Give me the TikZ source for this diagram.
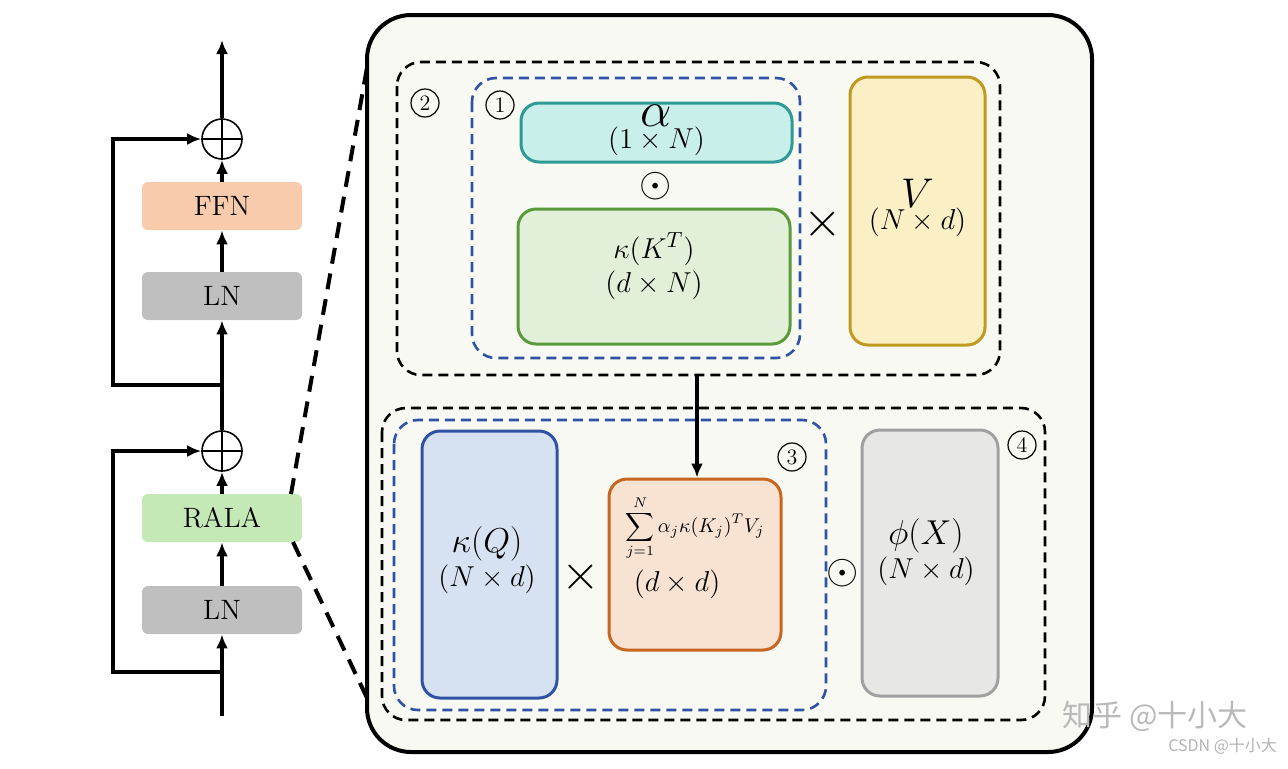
\documentclass[tikz,border=0pt]{standalone}
\usepackage{fontspec}
\usepackage{amsmath,amssymb}
\usetikzlibrary{arrows.meta}
\newfontfamily\cjk{Noto Sans CJK SC}
\definecolor{ffn}{HTML}{F8CBAD}\definecolor{lng}{HTML}{BFBFBF}\definecolor{rala}{HTML}{C5E8B7}
\definecolor{bg}{HTML}{F7F9F2}
\definecolor{af}{HTML}{C9EFEA}\definecolor{ab}{HTML}{2E9A94}
\definecolor{kf}{HTML}{E2F0D9}\definecolor{kb}{HTML}{5A9A3A}
\definecolor{vf}{HTML}{FBEFC5}\definecolor{vb}{HTML}{C09A20}
\definecolor{qf}{HTML}{D6E2F1}\definecolor{qb}{HTML}{2F52A4}
\definecolor{of}{HTML}{F8E3D3}\definecolor{ob}{HTML}{C8651E}
\definecolor{pf}{HTML}{E7E8E6}\definecolor{pb}{HTML}{A0A0A0}
\definecolor{bd}{HTML}{2F52A4}
\begin{document}
\begin{tikzpicture}[x=0.5pt,y=-0.5pt,
 blk/.style={rounded corners=3pt,minimum width=80pt,minimum height=24pt,inner sep=0pt,font=\fontsize{14}{16}\selectfont},
 box/.style={rounded corners=9pt,line width=1.5pt,inner sep=0pt},
 arr/.style={line width=1.6pt,-{Latex[length=7pt,width=6pt]}},
 dsh/.style={dashed,line width=1.3pt,dash pattern=on 5pt off 3pt,rounded corners=12pt},
 mt/.style={font=\fontsize{15}{17}\selectfont,align=center},
 num/.style={circle,draw,line width=0.6pt,minimum size=14pt,inner sep=0pt,font=\fontsize{11}{11}\selectfont},
 opl/.style={circle,draw,line width=0.8pt,minimum size=20pt,inner sep=0pt}]
\useasboundingbox (0,0) rectangle (1288,768);
% left column
\node[blk,fill=ffn] (ffn) at (222,206) {FFN};
\node[blk,fill=lng] (ln1) at (222,296) {LN};
\node[blk,fill=rala] (rala) at (222,518) {RALA};
\node[blk,fill=lng] (ln2) at (222,610) {LN};
\node[opl] (p1) at (222,139) {};
\draw[line width=0.8pt] (p1.north)--(p1.south) (p1.west)--(p1.east);
\node[opl] (p2) at (222,451) {};
\draw[line width=0.8pt] (p2.north)--(p2.south) (p2.west)--(p2.east);
\coordinate (bot) at (222,716); \coordinate (top) at (222,40);
\coordinate (s2) at (222,672); \coordinate (s1) at (222,385);
\draw[arr] (bot)--(ln2.south);
\draw[arr] (ln2.north)--(rala.south);
\draw[arr] (rala.north)--(p2.south);
\draw[arr] (p2.north)--(ln1.south);
\draw[arr] (ln1.north)--(ffn.south);
\draw[arr] (ffn.north)--(p1.south);
\draw[arr] (p1.north)--(top);
\draw[arr] (s2)-|(113,451)--(p2.west);
\draw[arr] (s1)-|(113,139)--(p1.west);
% big panel
\draw[line width=2pt,fill=bg,rounded corners=22pt] (367,15) rectangle (1092,752);
\coordinate (z1) at (368,62); \coordinate (z2) at (368,700);
\draw[dashed,line width=2pt,dash pattern=on 8pt off 5pt] (291,494)--(z1) (293,542)--(z2);
% top group
\draw[dsh] (397,62) rectangle (1000,375);
\draw[dsh,bd] (472,78) rectangle (800,358);
\node[box,draw=ab,fill=af,minimum width=135.5pt,minimum height=29.5pt] (al) at (656.5,132.5) {};
\node[mt] at (656.5,130) {{\fontsize{24}{20}\selectfont$\alpha$}\\[-6pt]$(1\times N)$};
\node[font=\fontsize{20}{20}\selectfont] (o1) at (656,186) {$\odot$};
\node[box,draw=kb,fill=kf,minimum width=136pt,minimum height=67.5pt] (kk) at (654,276.5) {};
\node[mt] at (654,266) {$\kappa(K^T)$\\$(d\times N)$};
\node[font=\fontsize{24}{24}\selectfont] (x1) at (823,224) {$\times$};
\node[box,draw=vb,fill=vf,minimum width=67.5pt,minimum height=134pt] (vv) at (917.5,211) {};
\node[mt] at (917.5,208) {{\fontsize{22}{20}\selectfont$V$}\\[-6pt]$(N\times d)$};
\node[num] at (500,105) {1};
\node[num] at (425,103) {2};
% bottom group
\draw[dsh] (382,408) rectangle (1045,720);
\draw[dsh,bd] (394,420) rectangle (826,710);
\node[box,draw=qb,fill=qf,minimum width=67.5pt,minimum height=133.5pt] (qq) at (489.5,564.5) {};
\node[mt] at (487,560) {{\fontsize{18}{18}\selectfont$\kappa(Q)$}\\$(N\times d)$};
\node[font=\fontsize{24}{24}\selectfont] (x2) at (581,577) {$\times$};
\node[box,draw=ob,fill=of,minimum width=86pt,minimum height=85.5pt] (oo) at (695,564.5) {};
\node[font=\fontsize{10}{12}\selectfont] at (695,528) {$\displaystyle\sum_{j=1}^{N}\alpha_j\kappa(K_j)^TV_j$};
\node[mt] at (677,584) {$(d\times d)$};
\node[font=\fontsize{20}{20}\selectfont] (o2) at (843,573) {$\odot$};
\node[box,draw=pb,fill=pf,minimum width=68pt,minimum height=133pt] (pp) at (930,563) {};
\node[mt] at (926,552) {{\fontsize{18}{18}\selectfont$\phi(X)$}\\$(N\times d)$};
\node[num] at (792,457) {3};
\node[num] at (1022,445) {4};
\coordinate (ar1) at (697,375);
\draw[arr] (ar1)--(oo.north-|ar1);
% watermark
\node[text=gray!55,font=\cjk\fontsize{15}{15}\selectfont,anchor=east] at (1255,716) {知乎 @十小大};
\node[text=gray!60,font=\cjk\fontsize{8}{8}\selectfont,anchor=east] at (1284,746) {CSDN @十小大};
\end{tikzpicture}
\end{document}
